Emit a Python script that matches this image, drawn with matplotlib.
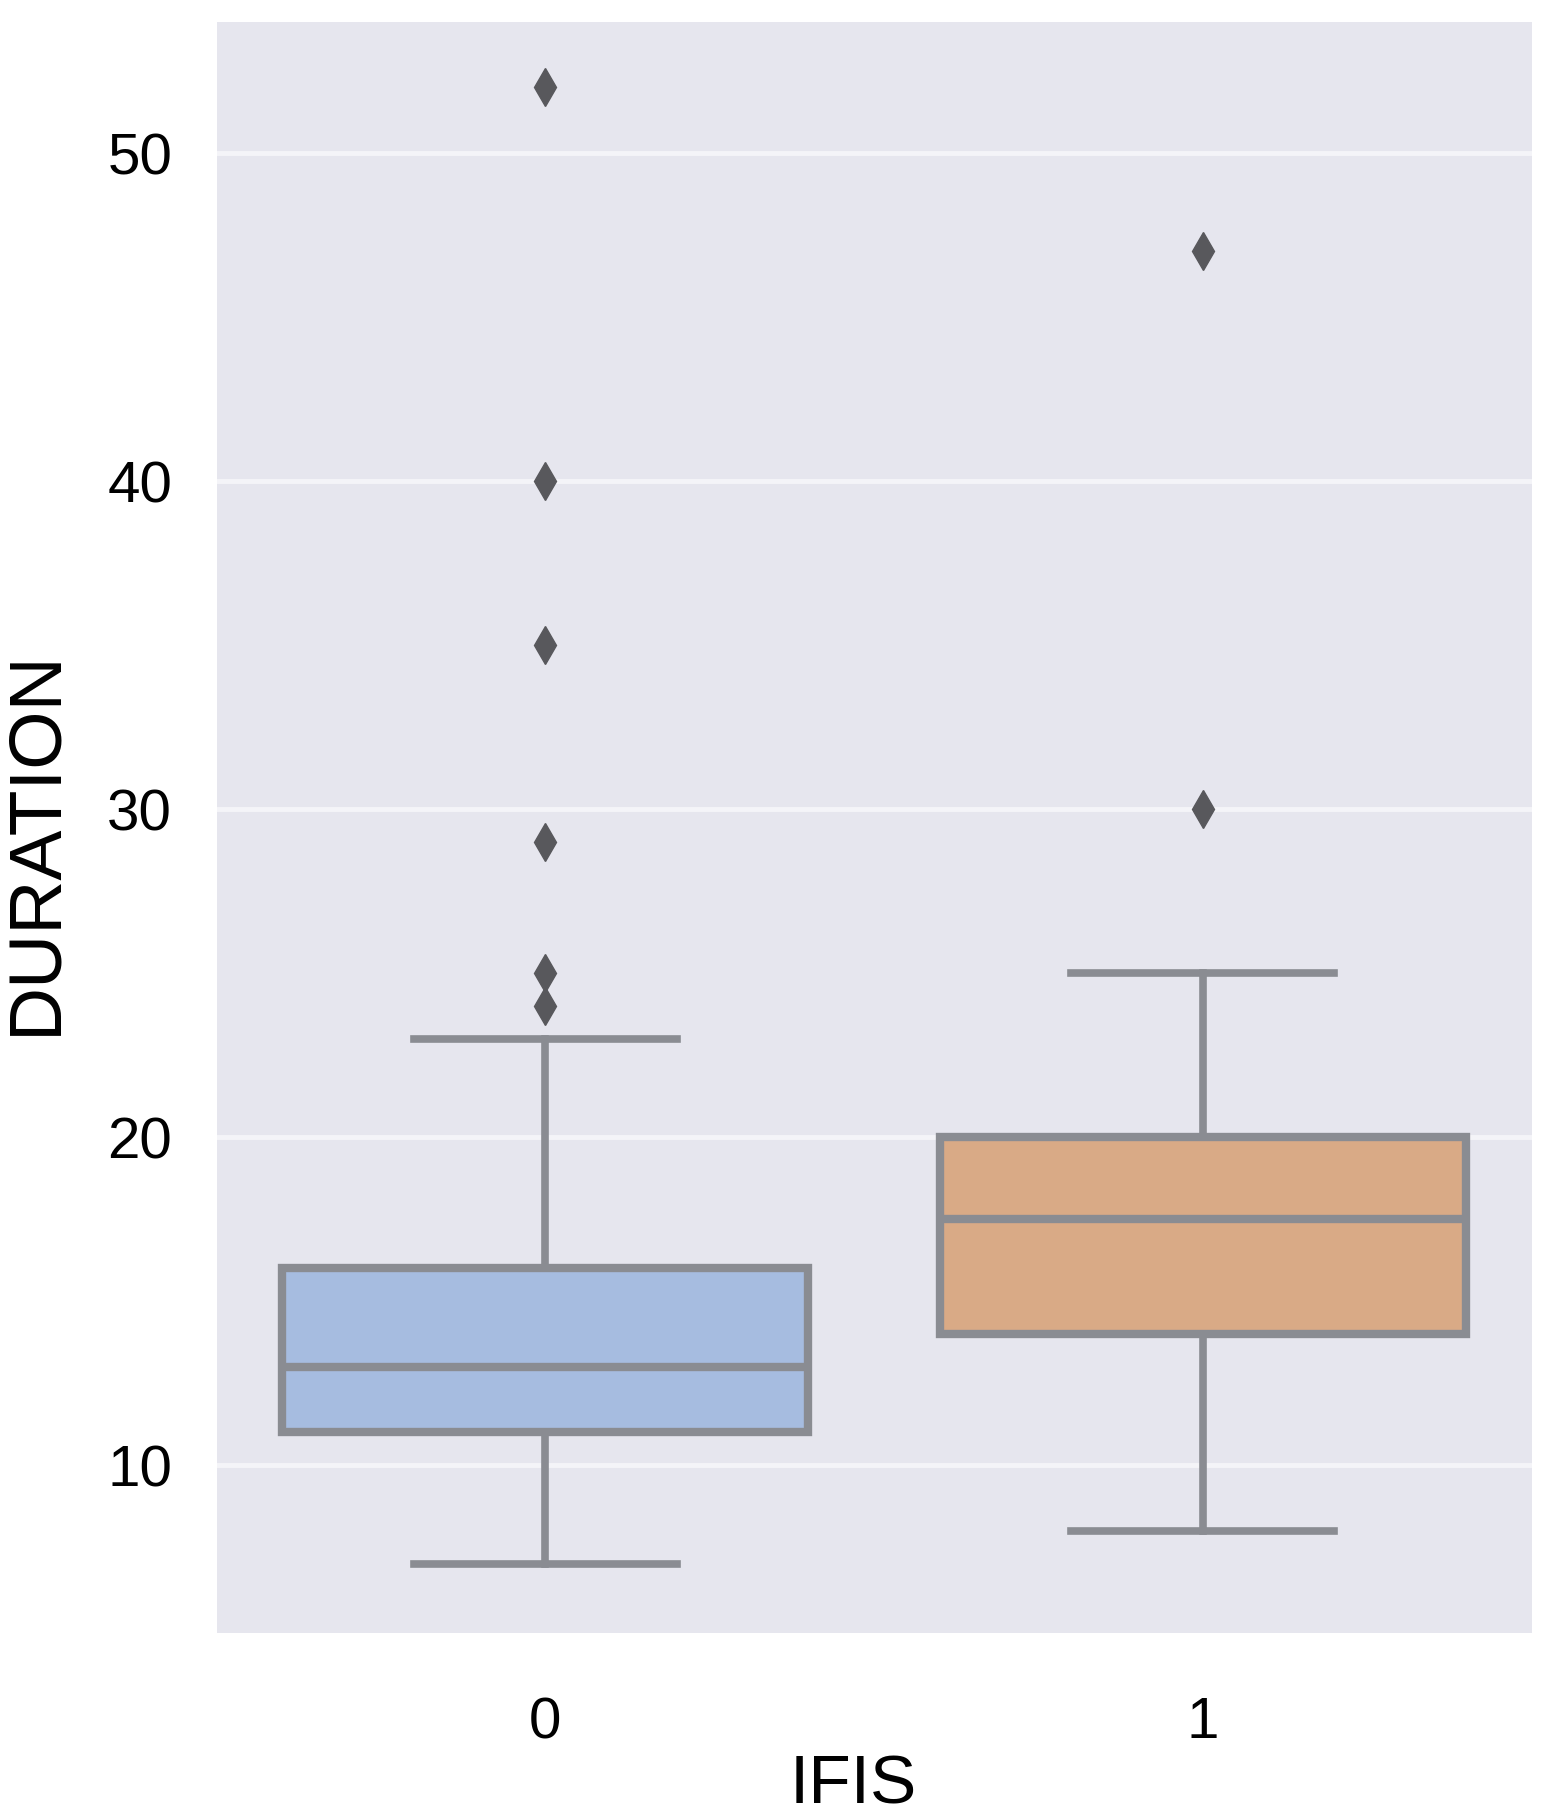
import matplotlib
matplotlib.use("Agg")
import matplotlib.pyplot as plt

# box statistics
groups = ["0", "1"]
q1 = [11, 14]
medians = [13, 17.5]
q3 = [16, 20]
whis_lo = [7, 8]
whis_hi = [23, 25]
fliers = [[24, 25, 29, 35, 40, 52], [30, 47]]
box_colors = ["#a6bce0", "#d9aa86"]

plt.rcParams['font.family'] = ['Liberation Sans', 'DejaVu Sans']

fig = plt.figure(figsize=(15.58, 18.16), dpi=100)
ax = fig.add_axes([0.139, 0.101, 0.844, 0.887])
ax.set_facecolor("#e6e6ee")

stats = []
for i in range(len(groups)):
    stats.append(dict(med=medians[i], q1=q1[i], q3=q3[i],
                      whislo=whis_lo[i], whishi=whis_hi[i],
                      fliers=fliers[i], label=groups[i]))

line_col = "#8a8c92"
bp = ax.bxp(stats, positions=range(len(groups)), widths=0.8,
            patch_artist=True, manage_ticks=False,
            boxprops=dict(edgecolor=line_col, linewidth=6),
            medianprops=dict(color=line_col, linewidth=6),
            whiskerprops=dict(color=line_col, linewidth=5.5),
            capprops=dict(color=line_col, linewidth=5.5),
            flierprops=dict(marker="d", markerfacecolor="#58585c",
                            markeredgecolor="#58585c", markersize=19))
for patch, c in zip(bp["boxes"], box_colors):
    patch.set_facecolor(c)

ax.set_xlim(-0.5, 1.5)
ax.set_ylim(4.9, 54.0)
ax.set_xticks(range(len(groups)))
ax.set_xticklabels(groups)
ax.set_yticks([10, 20, 30, 40, 50])
ax.yaxis.grid(True, color="#f4f4f8", linewidth=3.5)
ax.set_axisbelow(True)
ax.tick_params(axis="both", length=0, labelsize=42, colors="black")
ax.tick_params(axis="y", pad=32)
ax.tick_params(axis="x", pad=46)
for s in ax.spines.values():
    s.set_visible(False)

ax.set_xlabel("IFIS", fontsize=50)
ax.xaxis.set_label_coords(0.484, -0.075)
ax.set_ylabel("DURATION", fontsize=54)
ax.yaxis.set_label_coords(-0.111, 0.491)

fig.savefig("out.png", dpi=100)
